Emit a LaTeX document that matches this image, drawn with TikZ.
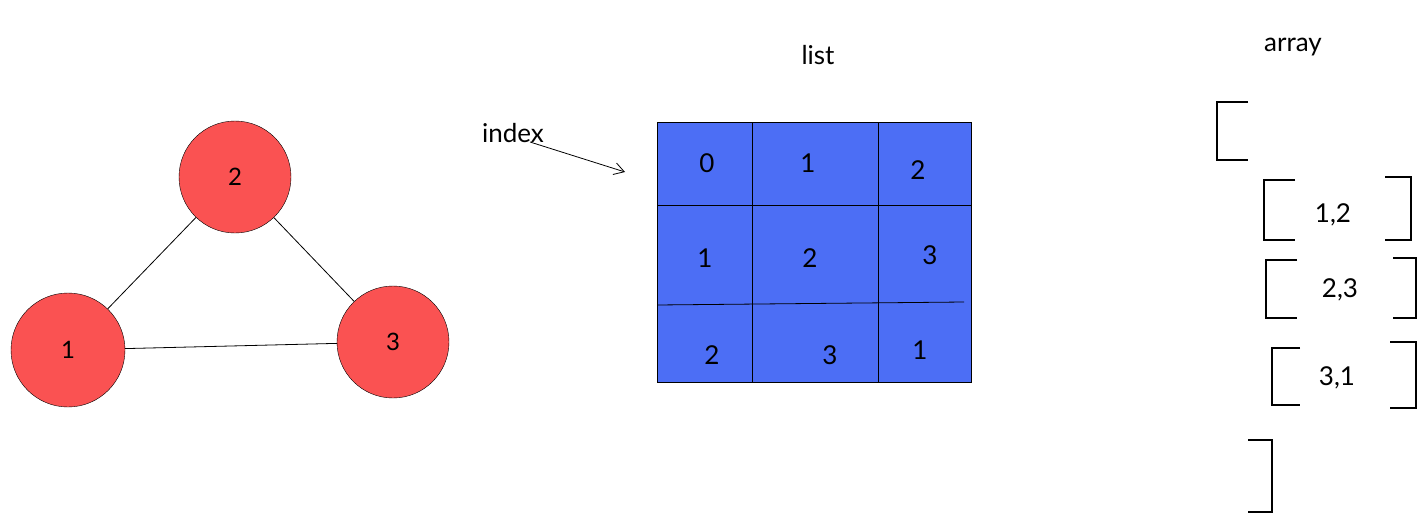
\documentclass[tikz,border=0pt]{standalone}
\usepackage{fontspec}
\setmainfont{Lato}
\usetikzlibrary{arrows.meta}
\definecolor{cred}{HTML}{FA5252}
\definecolor{cblue}{HTML}{4C6EF5}
\begin{document}
\begin{tikzpicture}[x=1pt,y=-1pt,
  vert/.style={circle,draw=black,fill=cred,minimum size=112pt,inner sep=0pt,font=\fontsize{24}{28}\selectfont},
  lbl/.style={font=\fontsize{26}{30}\selectfont},
  cell/.style={font=\fontsize{26}{30}\selectfont},
  edge/.style={draw=black,line width=0.8pt},
  brk/.style={draw=black,line width=1.2pt}]
\useasboundingbox (0,0) rectangle (1426,527);
% graph
\node[vert] (n2) at (235,177) {2};
\node[vert,minimum size=114pt] (n1) at (68,350) {1};
\node[vert] (n3) at (393,342) {3};
\draw[edge] (n1) -- (n2);
\draw[edge] (n2) -- (n3);
\draw[edge] (n1) -- (n3);
% list
\node[lbl] (index) at (513,133) {index};
\coordinate (arrs) at (530,142);
\coordinate (arre) at (625,172);
\draw[edge,-{Straight Barb[length=10pt,width=12pt]}] (arrs) -- (arre);
\node[lbl] (list) at (818,55) {list};
\fill[cblue] (657,122) rectangle (971,382);
\draw[edge] (657,122) rectangle (971,382);
\draw[edge] (752,122) -- (752,382);
\draw[edge] (878,122) -- (878,382);
\draw[edge] (657,205) -- (971,205);
\draw[edge] (657,305) -- (964,302);
\node[cell] (c11) at (707,163) {0};
\node[cell] (c12) at (808,163) {1};
\node[cell] (c13) at (918,170) {2};
\node[cell] (c21) at (705,258) {1};
\node[cell] (c22) at (810,258) {2};
\node[cell] (c23) at (930,255) {3};
\node[cell] (c31) at (712,355) {2};
\node[cell] (c32) at (830,355) {3};
\node[cell] (c33) at (920,350) {1};
% array
\node[lbl] (array) at (1293,47) {array};
\draw[brk] (1248,102) -- (1217,102) -- (1217,160) -- (1248,160);
\draw[brk] (1248,440) -- (1272,440) -- (1272,512) -- (1248,512);
\draw[brk] (1295,180) -- (1264,180) -- (1264,240) -- (1295,240);
\draw[brk] (1385,177) -- (1411,177) -- (1411,240) -- (1385,240);
\node[cell] (a1) at (1333,215) {1,2};
\draw[brk] (1297,260) -- (1266,260) -- (1266,318) -- (1297,318);
\draw[brk] (1393,258) -- (1416,258) -- (1416,318) -- (1393,318);
\node[cell] (a2) at (1340,290) {2,3};
\draw[brk] (1300,348) -- (1272,348) -- (1272,405) -- (1300,405);
\draw[brk] (1390,342) -- (1416,342) -- (1416,408) -- (1390,408);
\node[cell] (a3) at (1337,378) {3,1};
\end{tikzpicture}
\end{document}
